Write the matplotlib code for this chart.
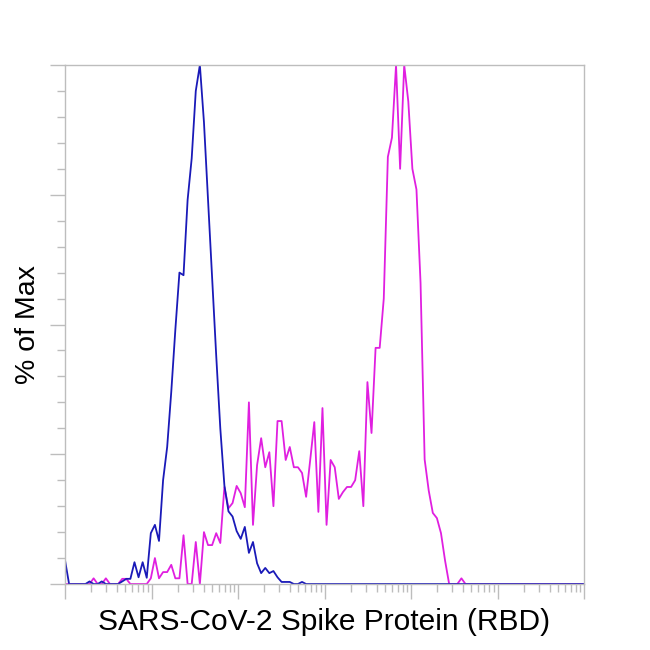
import numpy as np
import matplotlib
matplotlib.use("Agg")
import matplotlib.pyplot as plt
from matplotlib.ticker import LogLocator, MultipleLocator, NullFormatter

# Histogram channels (log-spaced bins over 6 decades), % of max per bin
n_bins = 128
x_decades = (0, 6)

isotype_blue = [
    4.6, 0, 0, 0, 0, 0, 0.5, 0, 0, 0.5,
    0, 0, 0, 0, 0.5, 1, 1, 4.2, 1.3, 4.2,
    1.2, 9.8, 11.4, 8.3, 20, 26.4, 37, 49, 60, 59.5,
    74, 82, 95, 100, 89, 74, 59, 44, 30, 19,
    14, 13, 10.2, 8.7, 11, 6, 8.1, 4, 2.1, 3.1,
    2.1, 2.5, 1.3, 0.4, 0.4, 0.4, 0, 0, 0.4, 0,
    0, 0, 0, 0, 0, 0, 0, 0, 0, 0,
    0, 0, 0, 0, 0, 0, 0, 0, 0, 0,
    0, 0, 0, 0, 0, 0, 0, 0, 0, 0,
    0, 0, 0, 0, 0, 0, 0, 0, 0, 0,
    0, 0, 0, 0, 0, 0, 0, 0, 0, 0,
    0, 0, 0, 0, 0, 0, 0, 0, 0, 0,
    0, 0, 0, 0, 0, 0, 0, 0,
]

rbd_magenta = [
    0, 0, 0, 0, 0, 0, 0, 1.1, 0, 0,
    1.1, 0, 0, 0, 1, 1, 0, 0, 0, 0,
    0, 1.1, 5, 1.1, 2.3, 2.3, 3.7, 1.1, 1.1, 9.4,
    0, 0, 8.1, 0, 10, 7.5, 7.5, 9.8, 7.9, 18.7,
    14.6, 15.6, 18.9, 17.5, 14.8, 35, 11.4, 22.9, 28.1, 22.5,
    25.4, 15, 31.4, 31.4, 23.9, 26.4, 22.5, 22.5, 21.4, 16.8,
    23.9, 31.2, 13.9, 33.9, 11.4, 23.9, 22.5, 16.4, 17.7, 18.7,
    18.7, 20, 25.6, 15, 38.9, 29.1, 45.5, 45.5, 55, 82.3,
    86, 100, 80, 100, 93, 80, 76, 58, 24, 18,
    13.7, 12.7, 9.8, 4.5, 0, 0, 0, 1.1, 0, 0,
    0, 0, 0, 0, 0, 0, 0, 0, 0, 0,
    0, 0, 0, 0, 0, 0, 0, 0, 0, 0,
    0, 0, 0, 0, 0, 0, 0, 0,
]

x_label = "SARS-CoV-2 Spike Protein (RBD)"
y_label = "% of Max"

plt.rcParams['font.family'] = ['Liberation Sans', 'DejaVu Sans']

x = np.logspace(x_decades[0], x_decades[1], n_bins)

fig = plt.figure(figsize=(6.5, 6.5), dpi=100)
ax = fig.add_axes([0.1, 0.1015, 0.7985, 0.7985])

ax.plot(x, rbd_magenta, color='#e01fe0', lw=1.3)
ax.plot(x, isotype_blue, color='#1a1ab8', lw=1.3)

ax.set_xscale('log')
ax.set_xlim(10 ** x_decades[0], 10 ** x_decades[1])
ax.set_ylim(0, 100)

grey = '#bdbdbd'
for s in ax.spines.values():
    s.set_color(grey)
    s.set_linewidth(1.0)

ax.xaxis.set_major_locator(LogLocator(base=10, numticks=20))
ax.xaxis.set_minor_locator(LogLocator(base=10, subs=np.arange(2, 10), numticks=20))
ax.xaxis.set_major_formatter(NullFormatter())
ax.xaxis.set_minor_formatter(NullFormatter())
ax.yaxis.set_major_locator(MultipleLocator(25))
ax.yaxis.set_minor_locator(MultipleLocator(5))
ax.yaxis.set_major_formatter(NullFormatter())

ax.tick_params(axis='both', which='major', direction='out', length=11, width=1.0, color=grey)
ax.tick_params(axis='both', which='minor', direction='out', length=6, width=1.0, color=grey)
ax.tick_params(top=False, right=False)

ax.set_xlabel(x_label, fontsize=21.5, labelpad=3)
ax.set_ylabel(y_label, fontsize=20.5, labelpad=3)

fig.savefig('out.png', dpi=100)
